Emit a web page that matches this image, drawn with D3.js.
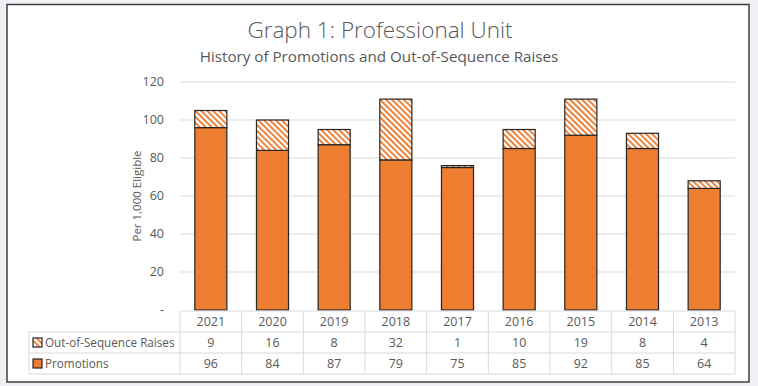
<!DOCTYPE html>
<html>
<head>
<meta charset="utf-8">
<script src="https://cdn.jsdelivr.net/npm/d3@7"></script>
<style>
  body { margin: 0; background: #eef0f4; }
  svg { display: block; font-family: "Open Sans", sans-serif; }
</style>
</head>
<body>
<svg id="plot"></svg>
<script>
const width = 758;
const height = 386;

const years = ['2021','2020','2019','2018','2017','2016','2015','2014','2013'];
const promotions = [96, 84, 87, 79, 75, 85, 92, 85, 64];
const oosRaises = [9, 16, 8, 32, 1, 10, 19, 8, 4];
const yTicks = [0, 20, 40, 60, 80, 100, 120];

const orange = '#ed7d31';
const textColor = '#595959';
const gridColor = '#d9d9d9';

let svg, sx, sy;

function main(){
  svg = d3.select('svg#plot')
  .attr('width', width)
  .attr('height', height);

  // chart frame
  svg.append('rect')
  .attr('x', 7).attr('y', 4.5)
  .attr('width', 742).attr('height', 377.5)
  .attr('fill', '#fff')
  .attr('stroke', '#3f3f3f')
  .attr('stroke-width', 1.5);

  initPattern();
  initTitle();
  initAxes();
  drawBars();
  drawTable();
}

function initPattern(){
  let p = 4.2;
  let pat = svg.append('defs').append('pattern')
  .attr('id', 'hatch')
  .attr('patternUnits', 'userSpaceOnUse')
  .attr('width', p).attr('height', p)
  .attr('patternTransform', 'rotate(-45)');
  pat.append('rect').attr('width', p).attr('height', p).attr('fill', '#fff');
  pat.append('rect').attr('width', 1.9).attr('height', p).attr('fill', orange);
}

function initTitle(){
  svg.append('text')
  .attr('x', 380).attr('y', 38)
  .attr('text-anchor', 'middle')
  .attr('font-size', 22.5)
  .attr('font-weight', 300)
  .attr('fill', textColor)
  .text('Graph 1: Professional Unit');

  svg.append('text')
  .attr('x', 379).attr('y', 62)
  .attr('text-anchor', 'middle')
  .attr('font-size', 15.2)
  .attr('fill', textColor)
  .text('History of Promotions and Out-of-Sequence Raises');
}

function initAxes(){
  sx = d3.scaleBand()
  .domain(years)
  .range([180, 735])
  .paddingInner(0.48)
  .paddingOuter(0.24);

  sy = d3.scaleLinear()
  .domain([0, 120])
  .range([310, 82]);

  svg.selectAll('.grid')
  .data(yTicks.filter(d=>d>0))
  .enter()
  .append('line')
  .attr('class', 'grid')
  .attr('x1', 180).attr('x2', 735)
  .attr('y1', d=>sy(d)).attr('y2', d=>sy(d))
  .attr('stroke', gridColor)
  .attr('stroke-width', 1);

  svg.selectAll('.ytick')
  .data(yTicks)
  .enter()
  .append('text')
  .attr('class', 'ytick')
  .attr('x', 164)
  .attr('y', d=>sy(d))
  .attr('dy', '0.35em')
  .attr('text-anchor', 'end')
  .attr('font-size', 12.5)
  .attr('fill', textColor)
  .text(d=> d === 0 ? '-' : d);

  svg.append('text')
  .attr('transform', 'translate(141,' + sy(60) + ') rotate(-90)')
  .attr('text-anchor', 'middle')
  .attr('font-size', 11.5)
  .attr('fill', textColor)
  .text('Per 1,000 Eligible');
}

function drawBars(){
  svg.selectAll('.promoBar')
  .data(promotions)
  .enter()
  .append('rect')
  .attr('class', 'promoBar')
  .attr('x', (d,i)=>sx(years[i]))
  .attr('y', d=>sy(d))
  .attr('width', sx.bandwidth())
  .attr('height', d=>sy(0)-sy(d))
  .attr('fill', orange)
  .attr('stroke', '#262626')
  .attr('stroke-width', 1.2);

  svg.selectAll('.oosBar')
  .data(oosRaises)
  .enter()
  .append('rect')
  .attr('class', 'oosBar')
  .attr('x', (d,i)=>sx(years[i]))
  .attr('y', (d,i)=>sy(promotions[i]+d))
  .attr('width', sx.bandwidth())
  .attr('height', d=>sy(0)-sy(d))
  .attr('fill', 'url(#hatch)')
  .attr('stroke', '#262626')
  .attr('stroke-width', 1.2);
}

function drawTable(){
  let rowTop = 311, rowH = 21;
  let colW = sx.step();
  let left = 29, dataLeft = 180, right = 735;
  let g = svg.append('g').attr('stroke', gridColor).attr('stroke-width', 1);

  // horizontal lines
  g.append('line').attr('x1', dataLeft).attr('x2', right).attr('y1', rowTop).attr('y2', rowTop);
  [1,2,3].forEach(r=>{
    g.append('line').attr('x1', left).attr('x2', right)
    .attr('y1', rowTop + r*rowH).attr('y2', rowTop + r*rowH);
  });
  // vertical lines
  g.append('line').attr('x1', left).attr('x2', left).attr('y1', rowTop+rowH).attr('y2', rowTop+3*rowH);
  d3.range(years.length+1).forEach(i=>{
    let x = dataLeft + i*colW;
    g.append('line').attr('x1', x).attr('x2', x).attr('y1', rowTop).attr('y2', rowTop+3*rowH);
  });

  let rows = [years, oosRaises, promotions];
  rows.forEach((row, r)=>{
    svg.selectAll('.cell'+r)
    .data(row)
    .enter()
    .append('text')
    .attr('x', (d,i)=>sx(years[i]) + sx.bandwidth()/2)
    .attr('y', rowTop + r*rowH + rowH/2)
    .attr('dy', '0.35em')
    .attr('text-anchor', 'middle')
    .attr('font-size', 12.5)
    .attr('fill', textColor)
    .text(d=>d);
  });

  let legend = [
    {name: 'Out-of-Sequence Raises', fill: 'url(#hatch)'},
    {name: 'Promotions', fill: orange}
  ];
  legend.forEach((d, k)=>{
    let cy = rowTop + (k+1)*rowH + rowH/2;
    svg.append('rect')
    .attr('x', 33).attr('y', cy-4.5)
    .attr('width', 9).attr('height', 9)
    .attr('fill', d.fill)
    .attr('stroke', '#262626')
    .attr('stroke-width', 1.2);
    svg.append('text')
    .attr('x', 45).attr('y', cy)
    .attr('dy', '0.35em')
    .attr('font-size', 11.7)
    .attr('fill', textColor)
    .text(d.name);
  });
}

document.addEventListener('DOMContentLoaded', main);
</script>
</body>
</html>
